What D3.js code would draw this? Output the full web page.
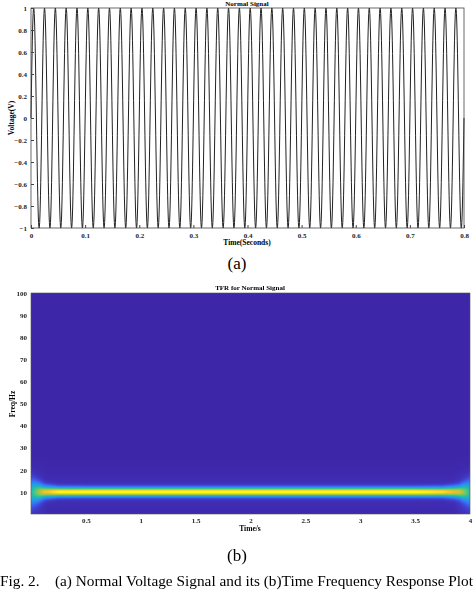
<!DOCTYPE html>
<html><head><meta charset="utf-8">
<script src="https://cdn.jsdelivr.net/npm/d3@7"></script>
<style>body{margin:0;background:#fff}svg{display:block}</style>
</head><body>
<svg id="c" width="474" height="591"></svg>
<script>
// ---- data ----
const signalFreqHz = 50;          // 40 cycles in 0.8 s
const signalAmp = 1;
const signalDuration = 0.8;
const voltTicks = [-1,-0.8,-0.6,-0.4,-0.2,0,0.2,0.4,0.6,0.8,1];
const timeTicksA = [0,0.1,0.2,0.3,0.4,0.5,0.6,0.7,0.8];
const tfrBandHz = 10;
const tfrTimeKnots = [0,0.05,0.12,0.25,0.5,3.5,3.75,3.9,3.97,4];
const tfrIntensity = [0.35,0.55,0.8,0.97,1,1,0.92,0.75,0.5,0.35];
const tfrWidthHz   = [5,4,2.6,2.0,1.9,1.9,2.0,2.6,4,5];
const freqTicks = [10,20,30,40,50,60,70,80,90,100];
const timeTicksB = [0.5,1,1.5,2,2.5,3,3.5,4];
const parula = ["#3e26a8","#4143d5","#3a6ef9","#2b8ef0","#1ea9d5","#1bbcb0","#4ac77f","#98c94a","#dcbc2c","#fdca32","#f9fb0e"];

const svg = d3.select("#c");
const serif = "'Liberation Serif','Times New Roman',serif";

// ---- panel a ----
const xa = d3.scaleLinear().domain([0,0.8]).range([31,464]);
const ya = d3.scaleLinear().domain([-1,1]).range([228,8]);
const ga = svg.append("g");
const pts = d3.range(0, signalDuration*signalFreqHz*40+1).map(i=>{const t=i/(signalFreqHz*40);return [t, signalAmp*Math.sin(2*Math.PI*signalFreqHz*t)];});
ga.append("path").datum(pts).attr("d",d3.line().x(d=>xa(d[0])).y(d=>ya(d[1])))
  .attr("fill","none").attr("stroke","#222").attr("stroke-width",1);
ga.append("rect").attr("x",31).attr("y",8).attr("width",433).attr("height",220).attr("fill","none").attr("stroke","#444").attr("stroke-width",0.8);
const axA = ga.append("g").attr("transform","translate(0,228)").call(d3.axisBottom(xa).tickValues(timeTicksA).tickSize(-3).tickPadding(5).tickFormat(d3.format("~g")));
const ayA = ga.append("g").attr("transform","translate(31,0)").call(d3.axisLeft(ya).tickValues(voltTicks).tickSize(-3).tickPadding(4).tickFormat(d3.format("~g")));
[axA,ayA].forEach(a=>{a.select(".domain").remove();a.selectAll("line").attr("stroke","#444");a.selectAll("text").attr("font-family",serif).attr("font-size",7).attr("font-weight","bold").attr("fill","#222");});
ga.append("text").attr("x",247).attr("y",6).attr("text-anchor","middle").attr("font-family",serif).attr("font-size",7).attr("font-weight","bold").text("Normal Signal");
ga.append("text").attr("x",247).attr("y",245).attr("text-anchor","middle").attr("font-family",serif).attr("font-size",7.5).attr("font-weight","bold").text("Time(Seconds)");
ga.append("text").attr("transform","translate(14,118) rotate(-90)").attr("text-anchor","middle").attr("font-family",serif).attr("font-size",7.5).attr("font-weight","bold").text("Voltage(V)");
svg.append("text").attr("x",237).attr("y",269).attr("text-anchor","middle").attr("font-family",serif).attr("font-size",17).text("(a)");

// ---- panel b ----
const xb = d3.scaleLinear().domain([0,4]).range([31,470]);
const yb = d3.scaleLinear().domain([0,100]).range([514,293]);
const color = d3.scaleSequential(d3.interpolateRgbBasis(parula)).domain([0,1]);
const iT = d3.scaleLinear().domain(tfrTimeKnots).range(tfrIntensity).clamp(true);
const wT = d3.scaleLinear().domain(tfrTimeKnots).range(tfrWidthHz).clamp(true);
const fo = svg.append("foreignObject").attr("x",31).attr("y",293).attr("width",439).attr("height",221);
const cv = fo.append("xhtml:canvas").attr("width",439).attr("height",221).node();
const ctx = cv.getContext("2d");
const img = ctx.createImageData(439,221);
for(let px=0;px<439;px++){
  const t = xb.invert(px+31.5), A=iT(t), w=wT(t);
  const edge = Math.max(0, 1-Math.min(t,4-t)/0.15);
  for(let py=0;py<221;py++){
    const f = yb.invert(py+293.5);
    let v = A*Math.exp(-Math.pow((f-tfrBandHz)/w,2));
    v += 0.12*edge*Math.exp(-Math.pow((f-8)/8,2));
    v += 0.03*Math.exp(-Math.pow((f-tfrBandHz)/9,2));
    const c = d3.rgb(color(Math.min(1,v)));
    const k=(py*439+px)*4; img.data[k]=c.r;img.data[k+1]=c.g;img.data[k+2]=c.b;img.data[k+3]=255;
  }
}
ctx.putImageData(img,0,0);
const gb = svg.append("g");
gb.append("rect").attr("x",31).attr("y",293).attr("width",439).attr("height",221).attr("fill","none").attr("stroke","#555").attr("stroke-width",0.6);
const axB = gb.append("g").attr("transform","translate(0,514)").call(d3.axisBottom(xb).tickValues(timeTicksB).tickSize(0).tickPadding(4).tickFormat(d3.format("~g")));
const ayB = gb.append("g").attr("transform","translate(31,0)").call(d3.axisLeft(yb).tickValues(freqTicks).tickSize(0).tickPadding(4).tickFormat(d3.format("~g")));
[axB,ayB].forEach(a=>{a.select(".domain").remove();a.selectAll("text").attr("font-family",serif).attr("font-size",7).attr("font-weight","bold").attr("fill","#222");});
gb.append("text").attr("x",250).attr("y",290).attr("text-anchor","middle").attr("font-family",serif).attr("font-size",7).attr("font-weight","bold").text("TFR for Normal Signal");
gb.append("text").attr("x",250).attr("y",531).attr("text-anchor","middle").attr("font-family",serif).attr("font-size",7.5).attr("font-weight","bold").text("Time/s");
gb.append("text").attr("transform","translate(15,404) rotate(-90)").attr("text-anchor","middle").attr("font-family",serif).attr("font-size",7.5).attr("font-weight","bold").text("Freq/Hz");
svg.append("text").attr("x",237).attr("y",561).attr("text-anchor","middle").attr("font-family",serif).attr("font-size",17).text("(b)");
svg.append("text").attr("x",0).attr("y",586).attr("font-family",serif).attr("font-size",15.5).attr("textLength",473).attr("lengthAdjust","spacingAndGlyphs").attr("xml:space","preserve").text("Fig. 2.    (a) Normal Voltage Signal and its (b)Time Frequency Response Plot");
</script>
</body></html>
